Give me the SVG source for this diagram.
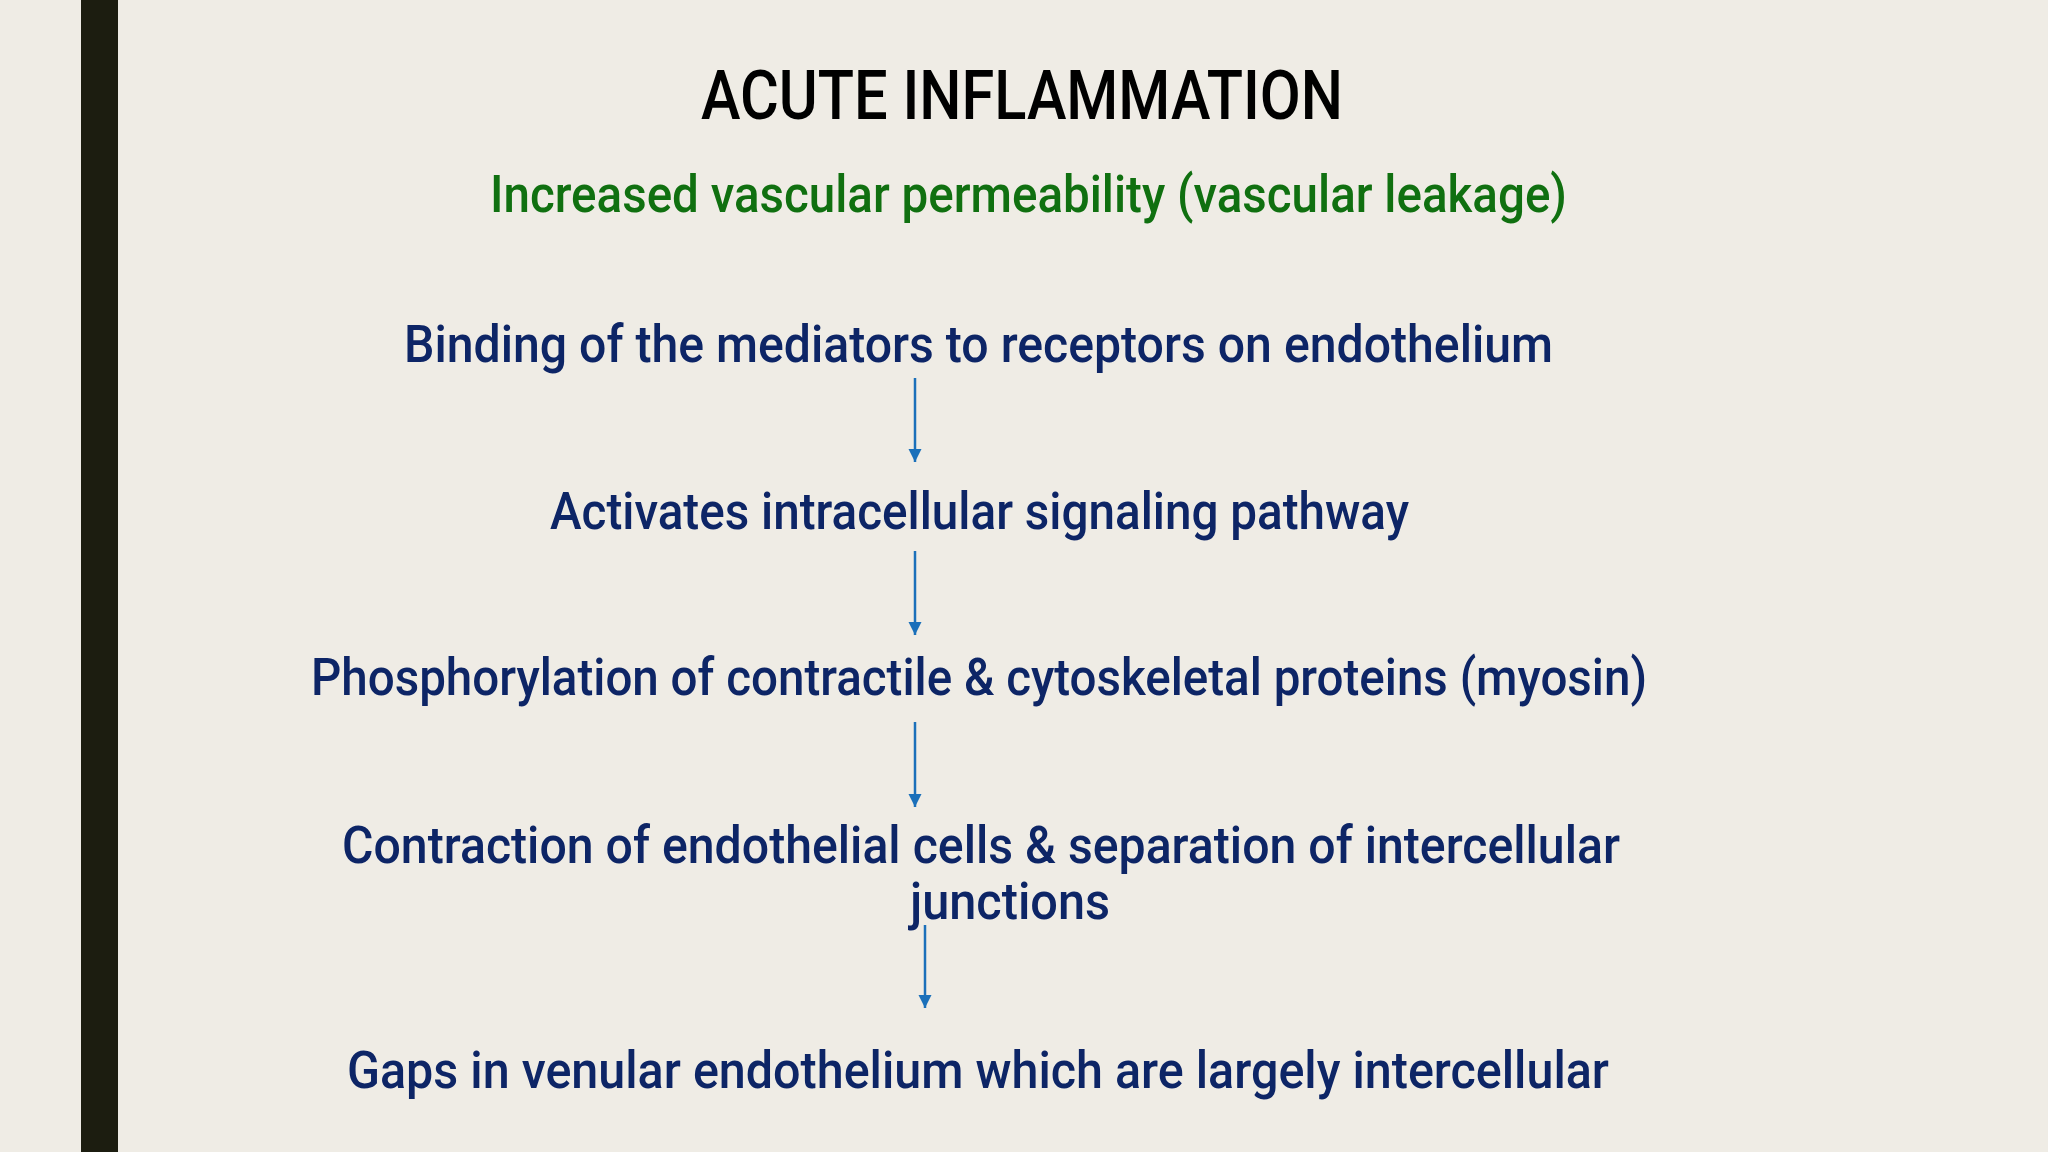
<svg xmlns="http://www.w3.org/2000/svg" width="2048" height="1152" viewBox="0 0 2048 1152">
<style>
.t{font-family:Roboto,"Liberation Sans",Arial,sans-serif;}
.title{font-size:68px;fill:#000000;font-weight:500;}
.green{font-size:52px;fill:#107010;font-weight:500;}
.blue{font-size:52px;fill:#0d2566;font-weight:500;}
.arr{stroke:#1b70ba;stroke-width:2.5;fill:none;}
</style>
<defs>
<marker id="ah" markerWidth="13" markerHeight="14" refX="13" refY="6.5" orient="auto" markerUnits="userSpaceOnUse">
<path d="M0,0 L13,6.5 L0,13 Z" fill="#1b70ba"/>
</marker>
</defs>
<rect x="0" y="0" width="2048" height="1152" fill="#efece5"/>
<rect x="81" y="0" width="37" height="1152" fill="#1c1d10"/>
<g id="title"><text class="t title" x="701" y="119" textLength="642" lengthAdjust="spacingAndGlyphs">ACUTE INFLAMMATION</text></g>
<g id="subtitle"><text class="t green" x="490" y="212" textLength="1077" lengthAdjust="spacingAndGlyphs">Increased vascular permeability (vascular leakage)</text></g>
<g id="step1"><text class="t blue" x="404" y="362" textLength="1149" lengthAdjust="spacingAndGlyphs">Binding of the mediators to receptors on endothelium</text></g>
<g id="step2"><text class="t blue" x="550" y="529" textLength="859" lengthAdjust="spacingAndGlyphs">Activates intracellular signaling pathway</text></g>
<g id="step3"><text class="t blue" x="311" y="695" textLength="1336" lengthAdjust="spacingAndGlyphs">Phosphorylation of contractile &amp; cytoskeletal proteins (myosin)</text></g>
<g id="step4"><text class="t blue" x="342" y="863" textLength="1278" lengthAdjust="spacingAndGlyphs">Contraction of endothelial cells &amp; separation of intercellular</text>
<text class="t blue" x="910" y="919" textLength="200" lengthAdjust="spacingAndGlyphs">junctions</text></g>
<g id="step5"><text class="t blue" x="347" y="1088" textLength="1262" lengthAdjust="spacingAndGlyphs">Gaps in venular endothelium which are largely intercellular</text></g>
<g id="connectors">
<line class="arr" x1="915" y1="378" x2="915" y2="462" marker-end="url(#ah)"/>
<line class="arr" x1="915" y1="551" x2="915" y2="635" marker-end="url(#ah)"/>
<line class="arr" x1="915" y1="722" x2="915" y2="807" marker-end="url(#ah)"/>
<line class="arr" x1="925" y1="925" x2="925" y2="1008" marker-end="url(#ah)"/>
</g>
</svg>
